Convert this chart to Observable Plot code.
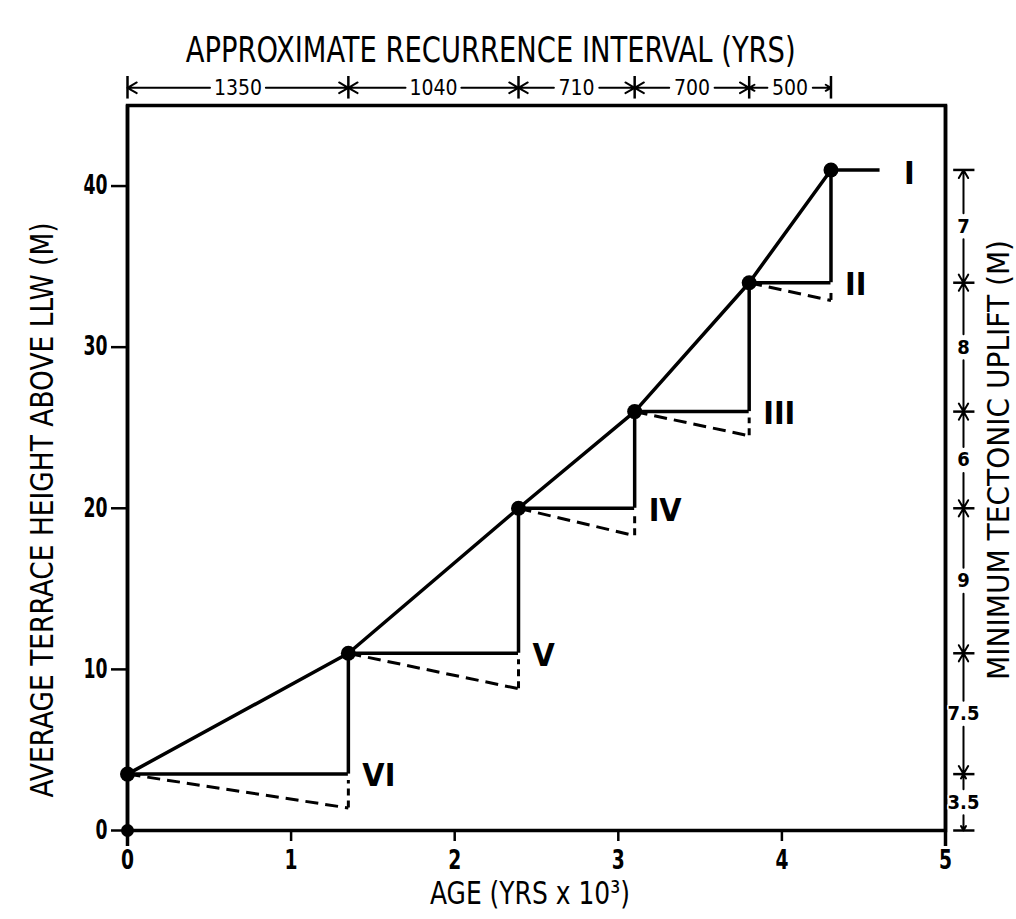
<!DOCTYPE html>
<html><head><meta charset="utf-8">
<script src="https://cdn.jsdelivr.net/npm/d3@7"></script>
<script src="https://cdn.jsdelivr.net/npm/@observablehq/plot@0.6"></script>
<style>body{margin:0;background:#fff}</style>
</head><body><div id="chart"></div>
<script>
// ---- data ----
const ages = [0, 1.35, 2.39, 3.10, 3.80, 4.30];          // kyr
const heights = [3.5, 11, 20, 26, 34, 41];                // m above LLW
const terraces = ["VI", "V", "IV", "III", "II", "I"];
const lowStands = [1.4, 8.8, 18.3, 24.5, 32.9];           // dashed end heights (VI..II)
const intervals = ["1350", "1040", "710", "700", "500"];  // recurrence intervals (yrs)
const upliftBounds = [0, 3.5, 11, 20, 26, 34, 41];
const upliftLabels = ["3.5", "7.5", "9", "6", "8", "7"];
const xTicks = [0, 1, 2, 3, 4, 5];
const yTicks = [0, 10, 20, 30, 40];
const origin = [{x: 0, y: 0}];
const tailI = 4.6;  // end of terrace I line

const TITLE = "APPROXIMATE RECURRENCE INTERVAL (YRS)";
const YLABEL = "AVERAGE TERRACE HEIGHT ABOVE LLW (M)";
const RLABEL = "MINIMUM TECTONIC UPLIFT (M)";
const XLABEL = "AGE (YRS x 10³)";

// ---- derived tables ----
const points = ages.map((a, i) => ({x: a, y: heights[i], label: terraces[i]}));
const steps = ages.slice(1).map((a, i) => ({
  x0: ages[i], x1: a, yLow: heights[i], yHigh: heights[i + 1], yDash: lowStands[i], label: terraces[i]
}));
const yTop = 46.1;
const segs = intervals.map((t, i) => {
  const mid = (ages[i] + ages[i + 1]) / 2;
  const gap = (t.length * 10.5 / 2 + 7) / 164;
  return {mid, x0: ages[i], x1: ages[i + 1], label: t, gapL: mid - gap, gapR: mid + gap};
});
const xUp = 5.11;
const ups = upliftLabels.map((t, i) => {
  const mid = (upliftBounds[i] + upliftBounds[i + 1]) / 2;
  const gap = 13 / 16.1;
  return {mid, y0: upliftBounds[i], y1: upliftBounds[i + 1], label: t, gapD: mid - gap, gapU: mid + gap};
});

const FONT = "'DejaVu Sans Condensed','Liberation Sans Narrow','DejaVu Sans',sans-serif";
const LW = 3.5;

const chart = Plot.plot({
  width: 1016, height: 919,
  marginLeft: 127, marginRight: 71, marginTop: 105, marginBottom: 89,
  x: {domain: [0, 5]},
  y: {domain: [0, 45]},
  style: {fontFamily: FONT, color: "black", background: "white"},
  marks: [
    Plot.frame({strokeWidth: LW}),
    Plot.ruleX([0, 5], {y1: -1, y2: 45, strokeWidth: LW}),
    Plot.axisX({ticks: xTicks, tickFormat: "d", tickSize: 11, tickPadding: 9, fontSize: 26, fontWeight: "bold", strokeWidth: 2.5, label: null}),
    Plot.axisY({ticks: yTicks, tickFormat: "d", tickSize: 16, tickPadding: 4, fontSize: 26, fontWeight: "bold", strokeWidth: 2.5, label: null}),
    // solid staircase
    Plot.line(points, {x: "x", y: "y", strokeWidth: LW}),
    Plot.ruleX(steps, {x: "x1", y1: "yLow", y2: "yHigh", strokeWidth: LW}),
    Plot.ruleY(steps, {y: "yLow", x1: "x0", x2: "x1", strokeWidth: LW}),
    Plot.ruleY([heights[5]], {x1: ages[5], x2: tailI, strokeWidth: LW}),
    // dashed
    Plot.link(steps, {x1: "x0", y1: "yLow", x2: "x1", y2: "yDash", strokeWidth: 3, strokeDasharray: "13,7"}),
    Plot.ruleX(steps, {x: "x1", y1: "yDash", y2: d => d.yLow - 0.4, strokeWidth: 3, strokeDasharray: "7,5"}),
    // points
    Plot.dot(points, {x: "x", y: "y", r: 7.5, fill: "black"}),
    Plot.dot(origin, {x: "x", y: "y", r: 6.5, fill: "black"}),
    // terrace labels
    Plot.text(steps, {x: "x1", y: "yLow", text: "label", textAnchor: "start", dx: 14, dy: 2, fontSize: 32, fontWeight: "bold"}),
    Plot.text([points[5]], {x: tailI, y: "y", text: "label", textAnchor: "start", dx: 24, dy: 4, fontSize: 32, fontWeight: "bold"}),
    // recurrence interval scale (top)
    Plot.ruleX(ages, {y1: 45.4, y2: 46.8, strokeWidth: 2.5}),
    Plot.arrow(segs, {x1: "gapL", x2: "x0", y1: yTop, y2: yTop, strokeWidth: 2, headLength: 8}),
    Plot.arrow(segs, {x1: "gapR", x2: "x1", y1: yTop, y2: yTop, strokeWidth: 2, headLength: 8}),
    Plot.text(segs, {x: "mid", y: yTop, text: "label", fontSize: 21}),
    Plot.text([TITLE], {x: 2.22, y: 48.4, text: d => d, fontSize: 35}),
    // minimum tectonic uplift (right)
    Plot.ruleY(upliftBounds, {x1: 5.05, x2: 5.18, strokeWidth: 2.5}),
    Plot.arrow(ups, {x1: xUp, x2: xUp, y1: "gapD", y2: "y0", strokeWidth: 2, headLength: 7}),
    Plot.arrow(ups, {x1: xUp, x2: xUp, y1: "gapU", y2: "y1", strokeWidth: 2, headLength: 7}),
    Plot.text(ups, {x: xUp, y: "mid", text: "label", fontSize: 20, fontWeight: "bold", fill: "black", stroke: "white", strokeWidth: 3, paintOrder: "stroke"}),
    Plot.text([RLABEL], {x: 5.33, y: 23, text: d => d, rotate: -90, fontSize: 31}),
    Plot.text([YLABEL], {x: -0.52, y: 19.9, text: d => d, rotate: -90, fontSize: 32}),
    Plot.text([XLABEL], {x: 2.46, y: -3.9, text: d => d, fontSize: 32})
  ]
});
// fit the condensed lettering of the original to its measured lengths
const fit = {[TITLE]: 610, [YLABEL]: 575, [RLABEL]: 440, [XLABEL]: 200};
d3.select(chart).selectAll("text").each(function () {
  const len = fit[this.textContent];
  if (len) d3.select(this).attr("textLength", len).attr("lengthAdjust", "spacingAndGlyphs");
});
d3.select(chart).selectAll('g[aria-label="y-axis tick label"] text').each(function () {
  d3.select(this).attr("textLength", this.textContent.length * 12).attr("lengthAdjust", "spacingAndGlyphs");
});
d3.select(chart).selectAll('g[aria-label="x-axis tick label"] text')
  .attr("textLength", 13).attr("lengthAdjust", "spacingAndGlyphs");
document.getElementById("chart").append(chart);
</script>
</body></html>
